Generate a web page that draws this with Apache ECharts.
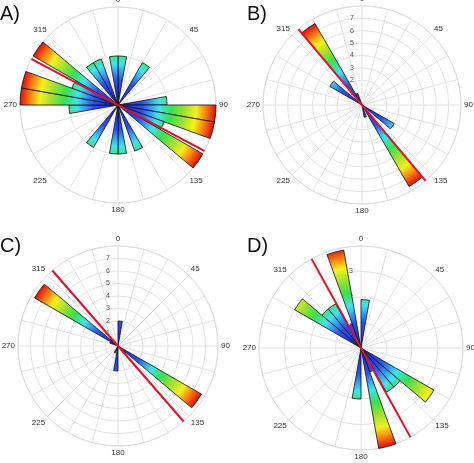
<!DOCTYPE html>
<html><head><meta charset="utf-8">
<script src="https://cdn.jsdelivr.net/npm/echarts@6/dist/echarts.min.js"></script>
<style>html,body{margin:0;padding:0;background:#fff}#c{width:474px;height:463px}</style>
</head><body><div id="c"></div>
<script>
// 10-degree bins, index i = bin [i*10, i*10+10), clockwise from north
const binLabels = Array.from({length:36},(_,i)=>String(i*10));
const aBins = [1,0,0,1,0,0,0,0,1,2, 2,1,2,0,0,1,0,1,1,0, 0,1,0,0,0,0,1,2,2,1, 2,0,1,1,0,1];
const bBins = [0,0,0,0,0,0,0,0,0,0, 0,0,3,0,7.6,0,1,0,0,0, 0,0,0,0,0,0,0,0,0,0, 3,0,7.6,1,0,0];
const cBins = [2,0,0,0,0,0,0,0,0,0, 0,0,7.7,0.8,0,0,0,0,2,0, 0.6,0,0,0,0,0,0,0,0,0.7, 7.7,0.8,0,0,0,0];
const dBins = [1.9,0,0,0,0,0,0,0,0,0, 0,0,3.3,2,2,1,4,0,2,0, 0,0,0,0,0,0,0,0,0,0, 3,2,2,1,3.9,0];
const lineAngles = {A:[298,118], B:[320,140], C:[319,139], D:[331,151]};
const angleTicks = [0,45,90,135,180,225,270,315];
const radiusMax = {A:2, B:8, C:8, D:4};
const panels = [
  {key:'A', bins:aBins, cx:118, cy:105, r:98, showR:false, lx:0, ly:4},
  {key:'B', bins:bBins, cx:362, cy:105, r:99, showR:true, lx:247, ly:4},
  {key:'C', bins:cBins, cx:118, cy:346, r:100, showR:true, lx:0, ly:236},
  {key:'D', bins:dBins, cx:361, cy:348, r:102, showR:true, lx:247, ly:236}
];
const polar=[], angleAxis=[], radiusAxis=[], series=[], graphic=[];
panels.forEach((p,k)=>{
  const max = radiusMax[p.key];
  const vmax = Math.max(...p.bins);
  const gi = 2*k, bi = 2*k+1;
  polar.push({center:[p.cx,p.cy], radius:p.r},{center:[p.cx,p.cy], radius:p.r});
  angleAxis.push({polarIndex:gi, type:'value', min:0, max:360, interval:15, startAngle:90, clockwise:true,
    axisLine:{lineStyle:{color:'#ddd'}}, axisTick:{show:false},
    axisLabel:{fontSize:8, color:'#333', margin:3, formatter:v=>angleTicks.includes(v)&&v!==360?String(v):''},
    splitLine:{lineStyle:{color:'#e2e2e2', width:1}}});
  angleAxis.push({polarIndex:bi, type:'category', data:binLabels, startAngle:90, clockwise:true, boundaryGap:true,
    axisLine:{show:false}, axisTick:{show:false}, axisLabel:{show:false}, splitLine:{show:false}});
  radiusAxis.push({polarIndex:gi, type:'value', min:0, max:max, interval:1,
    axisLine:{show:false}, axisTick:{show:false},
    axisLabel:{show:p.showR, fontSize:7, color:'#555', formatter:v=>(v>0&&v<max)?String(v):''},
    splitLine:{lineStyle:{color:'#e2e2e2'}}});
  radiusAxis.push({polarIndex:bi, type:'value', min:0, max:max, show:false});
  series.push({type:'bar', coordinateSystem:'polar', polarIndex:bi, data:p.bins, barCategoryGap:'0%', z:3,
    itemStyle:{borderColor:'#111', borderWidth:0.8,
      color:{type:'radial', x:p.cx, y:p.cy, r:p.r*vmax/max, global:true, colorStops:[
        {offset:0,color:'#1c22e6'},{offset:0.25,color:'#2a50f0'},{offset:0.42,color:'#40e4f0'},
        {offset:0.55,color:'#38e050'},{offset:0.68,color:'#a0e030'},{offset:0.8,color:'#f4f020'},
        {offset:0.9,color:'#f88010'},{offset:1,color:'#e01010'}]}}});
  const la = lineAngles[p.key];
  series.push({type:'line', coordinateSystem:'polar', polarIndex:gi, symbol:'none', z:5, silent:true,
    lineStyle:{color:'#e0102a', width:2}, data:[[max*1.03, la[0]],[max*1.03, la[1]]]});
  graphic.push({type:'text', left:p.lx, top:p.ly, style:{text:p.key+')', fontSize:20, fill:'#111', fontFamily:'Liberation Sans'}});
});
const chart = echarts.init(document.getElementById('c'));
chart.setOption({animation:false, polar, angleAxis, radiusAxis, series, graphic});
</script></body></html>
